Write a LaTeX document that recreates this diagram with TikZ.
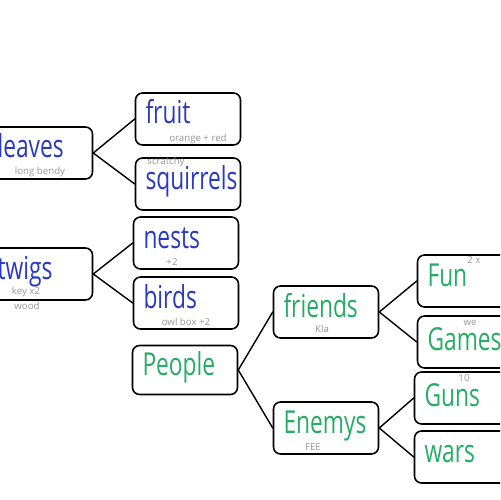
\documentclass[tikz,border=0pt]{standalone}
\usepackage{fontspec}
\setmainfont{Open Sans}
\usepackage{graphicx}
\definecolor{inkblue}{RGB}{42,58,190}
\definecolor{inkgreen}{RGB}{38,172,102}
\definecolor{pencil}{RGB}{150,150,150}
\newcommand{\hw}[1]{\scalebox{0.72}[1]{#1}}
\tikzset{
  box/.style={draw,line width=0.9pt,rounded corners=4pt,minimum width=2.1cm,minimum height=1.04cm,
    text width=1.7cm,inner xsep=0.2cm,inner ysep=0.05cm,text height=0.5cm,text depth=0.3cm,
    align=left,font=\fontsize{18}{18}\selectfont},
  tree/.style={box,text=inkblue},
  folk/.style={box,text=inkgreen},
  low/.style={text depth=0.15cm},
  note/.style={text=pencil,font=\fontsize{5.5}{5.5}\selectfont,inner sep=0pt},
  link/.style={line width=0.8pt}
}
\begin{document}
\begin{tikzpicture}[x=0.02cm,y=-0.02cm,line join=round,line cap=round]
			\useasboundingbox (0,0) rectangle (500,500);
			\clip (0,0) rectangle (500,500);
			% trees
			\node[tree] (leaves) at (40,153) {\hw{leaves}};
			\node[tree] (fruit) at (188,119) {\hw{fruit}};
			\node[tree] (squirrels) at (188,184) {\hw{squirrels}};
			\node[tree] (twigs) at (40,274) {\hw{twigs}};
			\node[tree] (nests) at (186,243) {\hw{nests}};
			\node[tree] (birds) at (186,303) {\hw{birds}};
			% people
			\node[folk,minimum height=0.98cm] (people) at (185,370) {\hw{People}};
			\node[folk,minimum width=2.04cm] (friends) at (326,312) {\hw{friends}};
			\node[folk,minimum width=2.04cm] (enemys) at (326,428) {\hw{Enemys}};
			\node[folk] (fun) at (470,281) {\hw{Fun}};
			\node[folk,low] (games) at (470,342) {\hw{Games}};
			\node[folk,low] (guns) at (467,398) {\hw{Guns}};
			\node[folk] (wars) at (467,457) {\hw{wars}};
			% links
			\draw[link] (fruit.west)--(leaves.east)--(squirrels.west);
			\draw[link] (nests.west)--(twigs.east)--(birds.west);
			\draw[link] (friends.west)--(people.east)--(enemys.west);
			\draw[link] (fun.west)--(friends.east)--(games.west);
			\draw[link] (guns.west)--(enemys.east)--(wars.west);
			% pencil notes
			\node[note] (n1) at (198,139) {orange + red};
			\node[note] (n2) at (40,172) {long bendy};
			\node[note] (n3) at (166,162) {scratchy};
			\node[note] (n4) at (172,262) {+2};
			\node[note] (n5) at (186,322) {owl box +2};
			\node[note] (n6) at (26,292) {key x2};
			\node[note] (n7) at (27,306) {wood};
			\node[note] (n8) at (322,329) {Kla};
			\node[note] (n9) at (313,447) {FEE};
			\node[note] (n10) at (474,260) {2 x};
			\node[note] (n11) at (470,322.5) {we};
			\node[note] (n12) at (464,378) {10};
		\end{tikzpicture}
\end{document}
